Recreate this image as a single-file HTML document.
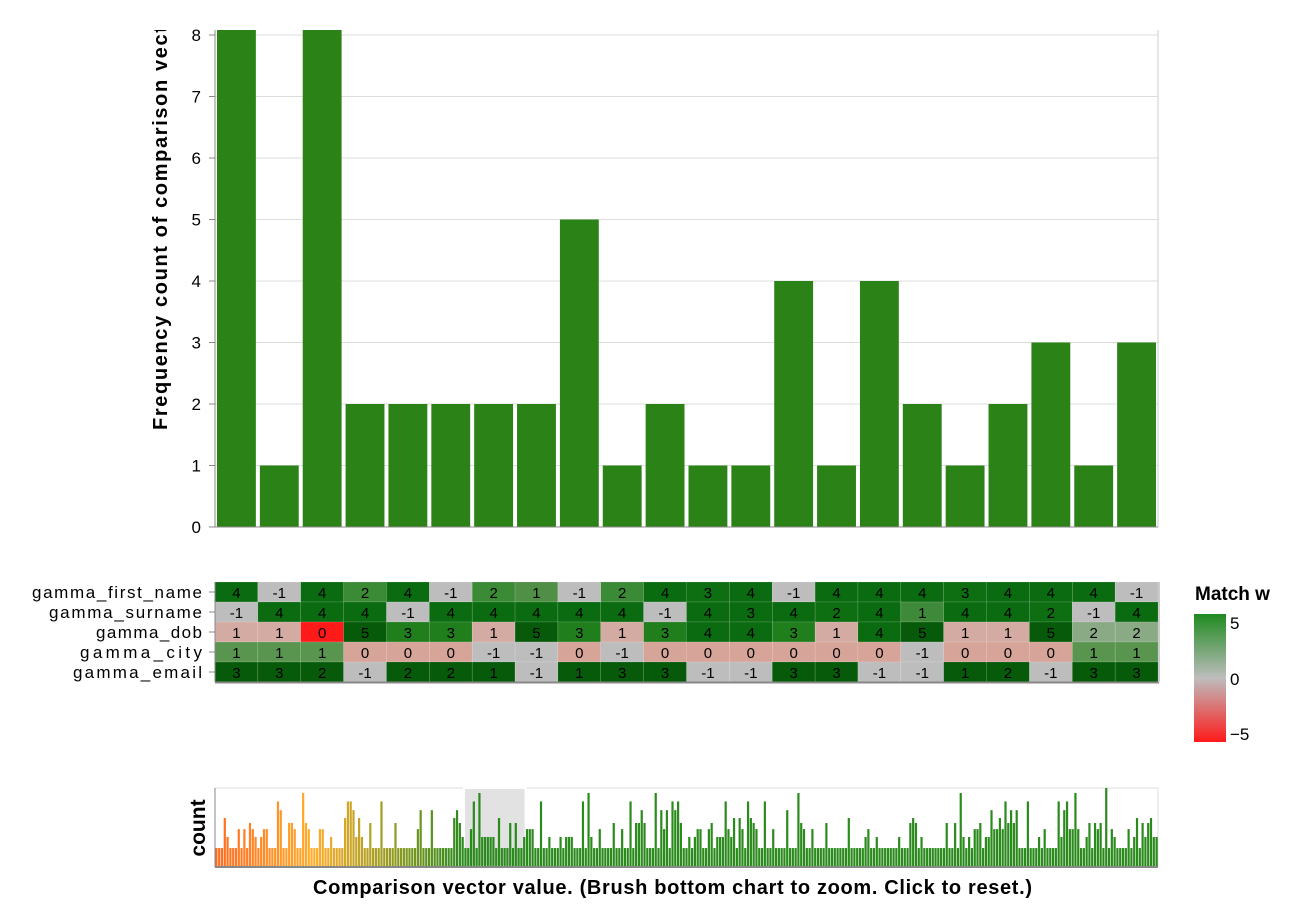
<!DOCTYPE html>
<html><head><meta charset="utf-8"><style>
body{margin:0;background:#fff;font-family:"Liberation Sans",Arial,sans-serif}
svg text{font-family:"Liberation Sans",Arial,sans-serif}
</style></head><body>
<svg id="c" width="1310" height="912" xmlns="http://www.w3.org/2000/svg">
<defs>
<linearGradient id="lg" x1="0" y1="0" x2="0" y2="1">
<stop offset="0" stop-color="#1f8a1f"/><stop offset="0.5" stop-color="#bdbdbd"/><stop offset="1" stop-color="#ff1a1a"/>
</linearGradient>
<clipPath id="topclip"><rect x="0" y="30" width="1310" height="600"/></clipPath>
</defs>
<g id="topchart"></g>
<g id="heat"></g>
<g id="legend">
<text x="1195" y="600" font-size="19" font-weight="bold">Match w</text>
<rect x="1194" y="614" width="32" height="128" fill="url(#lg)"/>
<text x="1230" y="629" font-size="17">5</text>
<text x="1230" y="685" font-size="17">0</text>
<text x="1230" y="740" font-size="17">−5</text>
</g>
<g id="bottom"></g>
</svg>
<script>
const barValues=[12,1,12,2,2,2,2,2,5,1,2,1,1,4,1,4,2,1,2,3,1,3];
const yTicks=[0,1,2,3,4,5,6,7,8];
const rowNames=["gamma_first_name","gamma_surname","gamma_dob","gamma_city","gamma_email"];
const gFirst=[4,-1,4,2,4,-1,2,1,-1,2,4,3,4,-1,4,4,4,3,4,4,4,-1];
const gSurname=[-1,4,4,4,-1,4,4,4,4,4,-1,4,3,4,2,4,1,4,4,2,-1,4];
const gDob=[1,1,0,5,3,3,1,5,3,1,3,4,4,3,1,4,5,1,1,5,2,2];
const gCity=[1,1,1,0,0,0,-1,-1,0,-1,0,0,0,0,0,0,-1,0,0,0,1,1];
const gEmail=[3,3,2,-1,2,2,1,-1,1,3,3,-1,-1,3,3,-1,-1,1,2,-1,3,3];
const counts=[1,1,1,5,2,1,1,1,3,1,3,1,4,3,2,1,2,3,3,1,1,1,10,7,1,1,4,4,3,1,1,14,4,3,1,1,1,3,3,1,1,2,1,1,1,1,5,10,10,7,2,5,2,1,1,4,1,1,1,10,1,1,1,1,4,1,1,1,1,1,1,1,3,7,1,1,1,7,1,1,1,1,1,1,1,5,7,4,2,1,1,3,
10,1,14,2,2,2,2,2,1,5,1,1,1,4,1,4,1,1,2,3,
3,3,1,1,10,1,1,2,1,1,1,2,1,2,2,2,1,1,1,10,1,14,2,1,1,3,1,1,1,1,4,1,1,3,1,1,10,1,
4,4,7,4,1,1,1,14,1,7,3,7,1,10,7,10,4,1,1,2,1,2,3,3,1,1,3,4,1,2,2,2,10,3,2,5,1,5,3,1,10,5,4,3,1,1,10,1,1,3,1,1,1,1,7,1,1,1,14,4,3,1,1,3,1,1,1,1,4,1,1,1,1,1,1,1,5,1,1,1,1,1,2,3,1,1,2,1,1,1,1,1,1,1,2,1,1,1,4,5,4,1,2,1,1,1,1,1,1,1,1,4,1,1,4,1,14,2,1,2,1,3,3,4,1,2,2,7,3,3,5,3,10,4,7,4,7,1,1,1,10,1,1,1,2,1,3,1,1,1,1,10,2,7,10,3,3,14,3,1,1,2,4,1,4,3,4,1,17,1,3,2,1,1,1,1,3,1,2,5,1,4,2,4,5,2,2];
const brushRange=[89,111];

const NS="http://www.w3.org/2000/svg";
function mk(tag,attrs,parent,txt){const e=document.createElementNS(NS,tag);for(const k in attrs)e.setAttribute(k,attrs[k]);if(txt!==undefined)e.textContent=txt;parent.appendChild(e);return e;}
const X0=215,X1=1158;
const topG=document.getElementById('topchart');


const Y0=527,unit=61.5;
const yS=v=>Y0-v*unit;
const band=(X1-X0)/barValues.length;
yTicks.forEach(t=>{
 const l=mk('line',{x1:X0,x2:X1,y1:yS(t),y2:yS(t),stroke:'#ddd'},topG);
 
 
 const tk=mk('line',{x1:X0-6,x2:X0,y1:yS(t),y2:yS(t),stroke:'#888'},topG);
 
 
 const tx=mk('text',{x:X0-14,y:yS(t)+6,'font-size':17,'text-anchor':'end'},topG,t);
 
 
});
const bars=mk('g',{'clip-path':'url(#topclip)'},topG);
barValues.forEach((v,i)=>{
 const r=mk('rect',{x:X0+i*band+2,y:yS(v),width:band-4,height:Y0-yS(v),fill:'#2b8216'},bars);
 
 
});
mk('line',{x1:X1,x2:X1,y1:30,y2:Y0,stroke:'#ccc'},topG);
const ya=mk('line',{x1:X0,x2:X0,y1:30,y2:Y0,stroke:'#888'},topG);


mk('line',{x1:X0,x2:X1,y1:Y0,y2:Y0,stroke:'#888'},topG);
const ytg=mk('g',{'clip-path':'url(#topclip)'},topG);
const yt=mk('text',{x:0,y:0,'font-size':20,'font-weight':'bold','text-anchor':'start',textLength:440,transform:'translate(167,430) rotate(-90)'},ytg,'Frequency count of comparison vectors');



const heat=document.getElementById('heat');


const rows=[gFirst,gSurname,gDob,gCity,gEmail];
const HY=582,RH=20;
const labelW=[170,153,106,122,129];
const pal=[
 {"-1":'#bdbdbd',1:'#4f8f46',2:'#3b8a35',3:'#0d6e12',4:'#0a6b10'},
 {"-1":'#bdbdbd',1:'#3f8a3a',2:'#0d6e12',3:'#0a6b10',4:'#0a6b10'},
 {"-1":'#bdbdbd',0:'#ff1a1a',1:'#d4aba3',2:'#8aaa85',3:'#217e1c',4:'#0b6b10',5:'#075a0a'},
 {"-1":'#bdbdbd',0:'#d6a498',1:'#5a9550'},
 {"-1":'#bdbdbd',1:'#075a0a',2:'#075a0a',3:'#075a0a'}];
rows.forEach((row,r)=>{
 const y=HY+r*RH;
 const lb=mk('text',{x:X0-13-labelW[r],y:y+16,'font-size':17,textLength:labelW[r]},heat,rowNames[r]);
 
 
 mk('line',{x1:X0-6,x2:X0,y1:y+10,y2:y+10,stroke:'#888'},heat);
 row.forEach((v,i)=>{
  const c=mk('rect',{x:X0+i*band,y:y,width:band,height:RH,fill:pal[r][v]||'#bdbdbd',stroke:'rgba(255,255,255,0.25)','stroke-width':0.5},heat);
  
  
  const t=mk('text',{x:X0+i*band+band/2,y:y+16,'font-size':15,'text-anchor':'middle'},heat,v);
  
  
 });
});
mk('line',{x1:X0,x2:X0,y1:HY,y2:HY+100,stroke:'#888'},heat);
mk('line',{x1:X0,x2:X1+1,y1:HY+100.5,y2:HY+100.5,stroke:'#888','stroke-width':2},heat);
mk('line',{x1:X1+1,x2:X1+1,y1:HY,y2:HY+100,stroke:'#ccc','stroke-width':2},heat);

const bot=document.getElementById('bottom');


const BT=788,BB=867;
const maxC=Math.max(...counts);
const hS=c=>(BB-BT)*Math.log(1+c)/Math.log(1+maxC);
const bw=(X1-X0)/counts.length;
mk('rect',{x:X0,y:BT,width:X1-X0,height:BB-BT,fill:'none',stroke:'#ddd'},bot);
const br=mk('rect',{x:X0+brushRange[0]*bw,y:BT,width:(brushRange[1]-brushRange[0])*bw,height:BB-BT-1,fill:'#e2e2e2',stroke:'#fff','stroke-width':2},bot);


const stops=[[0,[255,106,32]],[35,[255,174,44]],[65,[138,154,32]],[88,[42,138,28]],[100000,[35,130,23]]];
function colAt(i){for(let k=0;k<stops.length-1;k++){const a=stops[k],b=stops[k+1];if(i<=b[0]){const t=(i-a[0])/(b[0]-a[0]);return 'rgb('+a[1].map((v,j)=>Math.round(v+(b[1][j]-v)*t)).join(',')+')';}}return '#238217';}
counts.forEach((c,i)=>{
 const h=hS(c);
 const r=mk('rect',{x:X0+i*bw+0.3,y:BB-h,width:Math.max(bw-0.6,0.5),height:h,fill:colAt(i)},bot);
 
 
});
mk('line',{x1:X0,x2:X0,y1:BT,y2:BB,stroke:'#888'},bot);
mk('line',{x1:X0,x2:X1,y1:BB,y2:BB,stroke:'#888','stroke-width':2},bot);
const ct=mk('text',{x:0,y:0,'font-size':21,'font-weight':'bold','text-anchor':'middle',transform:'translate(205,828) rotate(-90)'},bot,'count');


const xt=mk('text',{x:313,y:894,'font-size':20,'font-weight':'bold',textLength:719},bot,'Comparison vector value.  (Brush bottom chart to zoom. Click to reset.)');
xt.setAttribute('xml:space','preserve');


</script>
</body></html>
